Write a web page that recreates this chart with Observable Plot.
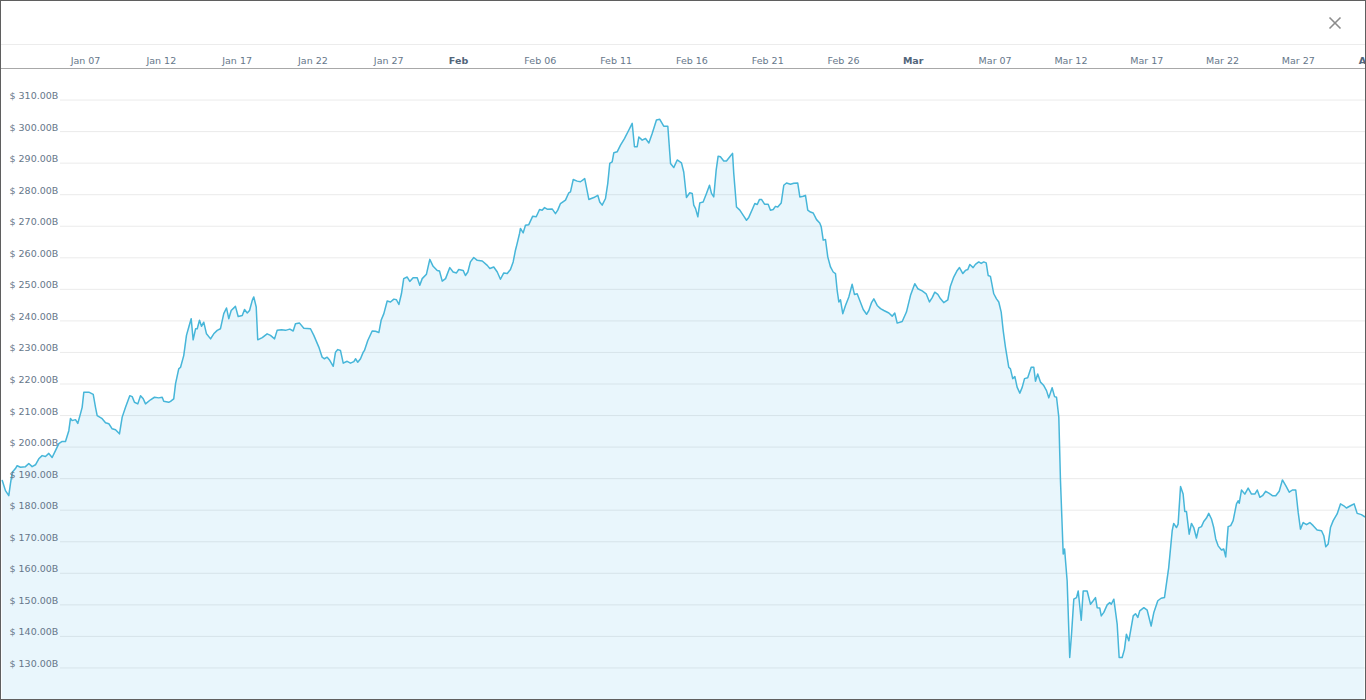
<!DOCTYPE html>
<html>
<head>
<meta charset="utf-8">
<script src="https://cdn.jsdelivr.net/npm/d3@7"></script>
<script src="https://cdn.jsdelivr.net/npm/@observablehq/plot@0.6"></script>
<style>
  html, body { margin: 0; padding: 0; background: #fff; }
  #frame { position: relative; width: 1364px; height: 698px; border: 1px solid #5f5f5f; overflow: hidden; background: #fff; }
  #header { position: relative; height: 43px; border-bottom: 1px solid #ececec; }
  #close { position: absolute; left: 1326px; top: 14px; }
  #chart svg { display: block; }
</style>
</head>
<body>
<div id="frame">
  <div id="header">
    <svg id="close" width="16" height="16" viewBox="0 0 16 16">
      <line x1="2.5" y1="2.5" x2="13.5" y2="13.5" stroke="#8c8c8c" stroke-width="1.6"/>
      <line x1="13.5" y1="2.5" x2="2.5" y2="13.5" stroke="#8c8c8c" stroke-width="1.6"/>
    </svg>
  </div>
  <div id="chart"></div>
</div>
<script>
// Time of each sample, in days since 2020-01-01 00:00 UTC
const days = [
  0.51,0.72,0.94,1.05,1.17,1.38,1.49,1.71,2.04,2.26,
  2.48,2.70,2.92,3.14,3.36,3.58,3.80,4.02,4.24,4.46,
  4.68,4.90,5.01,5.12,5.34,5.49,5.67,5.78,5.89,6.22,
  6.51,6.66,6.77,7.10,7.32,7.54,7.76,7.98,8.24,8.42,
  8.64,8.92,9.08,9.23,9.45,9.63,9.81,9.96,10.29,10.55,
  10.83,11.06,11.16,11.49,
  11.61,11.82,11.94,12.15,12.27,12.48,12.66,12.81,12.97,13.10,
  13.26,13.37,13.52,13.65,13.80,13.98,14.25,14.46,14.69,14.90,
  15.12,15.30,15.45,15.61,15.89,16.07,16.34,16.49,16.67,16.82,
  17.00,17.10,17.26,17.36,17.66,17.98,18.20,18.47,18.64,18.93,
  19.19,19.48,19.70,19.85,20.12,20.40,20.84,21.06,21.39,21.61,
  21.76,21.94,22.11,22.34,22.49,22.64,
  22.82,23.00,23.26,23.48,23.70,23.81,23.96,24.14,24.32,24.40,
  24.62,24.91,25.13,25.35,25.50,25.68,25.90,26.12,26.34,26.51,
  26.67,26.84,26.99,27.22,27.39,27.61,27.88,28.05,28.21,28.49,
  28.71,28.93,29.20,29.35,29.53,29.75,30.03,30.25,30.47,30.62,
  30.91,31.06,31.22,31.39,31.61,31.84,32.17,32.50,32.67,32.93,
  33.16,33.37,33.59,33.82,34.03,34.21,34.36,34.47,34.63,
  34.69,34.87,35.02,35.24,35.50,35.73,35.95,36.12,36.28,36.45,
  36.78,37.00,37.15,37.33,37.66,37.88,37.99,38.17,38.43,38.65,
  38.93,39.20,39.53,39.79,39.92,40.08,40.30,40.45,40.58,40.74,
  40.85,41.07,41.29,41.55,41.84,42.06,42.21,42.39,42.50,42.72,
  42.94,43.16,43.38,43.66,43.88,44.14,44.41,44.59,44.80,45.03,
  45.31,45.46,45.64,45.86,
  46.02,46.12,46.24,46.39,46.52,46.74,46.96,47.16,47.29,47.44,
  47.60,47.73,47.88,48.10,48.28,48.50,48.68,48.76,48.94,49.16,
  49.42,49.60,49.75,49.98,50.15,50.31,50.46,50.59,50.79,51.03,
  51.18,51.36,51.51,51.66,51.89,52.06,52.24,52.50,52.72,52.98,
  53.12,53.34,53.49,53.64,53.82,54.00,54.22,54.43,54.53,54.66,
  54.81,54.96,55.14,55.32,55.47,55.58,55.69,55.80,55.95,56.13,
  56.35,56.57,56.72,56.90,
  57.30,57.52,57.67,57.84,58.00,58.22,58.44,58.66,58.99,59.21,
  59.38,59.54,59.87,60.15,60.42,60.70,60.90,61.19,61.45,61.67,
  61.85,62.02,62.22,62.40,62.61,62.88,63.05,63.27,63.50,63.65,
  63.87,64.04,64.20,64.33,64.55,64.70,64.92,65.08,65.25,65.41,
  65.54,65.69,65.91,66.09,66.24,66.40,66.53,66.68,66.90,67.01,
  67.16,67.30,67.45,67.63,67.79,67.94,68.15,68.38,68.55,68.66,
  68.81,
  68.99,69.21,69.39,69.54,69.76,69.92,70.05,70.20,70.31,70.49,
  70.58,70.75,70.92,71.04,71.19,71.37,71.48,71.68,71.81,72.07,
  72.29,72.47,72.62,72.73,72.90,73.00,73.17,73.39,73.56,73.66,
  73.83,74.05,74.18,74.38,74.53,74.66,74.82,75.11,75.26,75.41,
  75.54,75.81,76.03,76.29,76.47,76.73,76.95,77.17,77.45,77.68,
  77.78,77.96,78.07,78.23,78.40,78.51,
  78.62,78.80,78.95,79.10,79.28,79.43,79.61,79.76,79.94,80.09,
  80.27,80.42,80.55,80.71,80.93,81.08,81.21,81.37,81.54,81.70,
  81.92,82.03,82.10,82.25,82.47,82.69,82.91,83.13,83.29,83.46,
  83.64,83.85,84.08,84.29,84.51,84.74,84.95,85.17,85.40,85.61,
  85.83,85.99,86.14,86.32,86.54,86.76,86.98,87.24,87.53,87.68,
  87.81,87.97,88.12,88.30,88.56,88.78,89.00,89.17,89.44,89.68,
  89.88,90.16,90.38
];

// Market cap in billions of USD
const values = [
  189.4,186.2,184.6,188.4,192.0,193.2,194.1,193.6,193.8,194.8,
  193.8,194.4,196.3,197.3,197.0,198.0,196.7,198.9,201.1,201.8,
  201.8,205.2,209.1,208.4,208.7,207.5,210.6,212.6,217.4,217.4,
  216.7,212.6,210.0,209.0,207.7,207.4,205.8,205.5,204.2,209.5,
  212.6,216.3,216.0,214.2,213.7,216.3,215.3,213.7,215.0,215.8,
  215.6,215.8,214.5,214.2,
  214.5,215.3,220.1,224.8,225.3,229.0,235.4,238.0,240.7,234.0,
  237.5,237.5,240.2,238.3,239.6,235.9,234.3,235.9,237.0,237.5,
  242.3,244.1,240.7,243.3,244.6,241.4,241.7,243.6,242.5,243.3,
  246.5,247.6,244.4,234.0,234.7,235.9,235.4,234.3,237.0,237.2,
  237.0,237.4,236.8,239.1,239.3,237.7,237.5,235.4,231.7,228.5,
  228.0,228.5,227.5,225.6,230.1,230.9,
  230.6,226.6,227.2,226.6,227.1,228.0,226.9,228.0,230.1,230.6,
  233.8,236.8,236.7,236.3,240.2,242.3,246.3,246.0,246.9,246.7,
  245.2,248.6,253.4,253.9,252.5,253.7,253.7,251.3,253.4,254.8,
  259.5,257.3,256.0,255.8,252.6,253.4,256.9,255.5,255.2,256.3,
  256.0,254.4,255.5,258.7,260.1,259.2,259.0,257.6,256.6,257.1,
  255.5,253.2,255.2,255.0,256.3,258.7,262.4,264.5,267.7,
  269.3,267.9,270.3,270.5,273.2,273.0,275.3,275.1,275.9,275.4,
  275.5,274.0,275.1,277.2,278.3,280.6,280.9,284.8,284.3,284.1,
  285.1,278.5,279.1,279.8,277.7,276.7,278.8,283.6,289.9,290.4,
  293.3,293.6,295.7,297.8,300.5,302.6,295.2,295.2,298.3,297.3,
  297.8,296.4,299.4,303.7,303.9,301.7,301.7,289.9,288.6,291.0,
  290.1,287.2,279.1,280.6,
  280.4,276.7,275.6,273.0,277.4,277.7,280.4,283.0,280.4,279.3,
  287.8,292.2,292.0,290.7,290.7,292.0,293.1,286.7,276.1,275.1,
  273.2,271.9,272.8,275.3,277.2,276.9,278.5,278.5,277.0,277.0,
  275.1,275.3,276.3,276.1,277.4,283.0,283.7,283.3,283.6,283.7,
  279.3,279.5,279.8,275.1,274.5,274.2,272.1,271.0,269.8,265.6,
  265.8,260.3,257.1,255.5,255.0,249.7,246.0,246.7,242.3,244.9,
  247.6,251.6,248.4,248.6,
  243.6,242.1,243.3,245.7,247.0,244.9,243.9,243.3,242.5,241.5,
  242.5,239.3,239.8,242.8,248.1,251.8,250.2,249.5,248.6,246.0,
  247.4,249.1,248.4,247.0,245.8,246.7,251.0,253.9,256.0,256.9,
  255.0,256.0,256.3,257.9,256.9,257.9,258.7,258.2,258.7,258.4,
  254.4,254.1,248.6,247.0,246.0,242.8,237.0,231.7,225.3,224.8,
  221.7,222.4,219.0,217.1,219.0,221.7,222.0,225.3,225.3,220.9,
  223.2,
  220.6,219.5,217.9,215.6,218.8,216.0,215.8,209.5,189.4,166.1,
  167.7,157.6,133.3,140.7,151.8,152.3,154.4,145.1,154.4,154.4,
  150.2,151.3,152.3,149.1,149.0,146.5,147.6,150.0,150.7,150.2,
  151.8,143.9,133.3,133.3,135.9,140.7,138.6,146.5,147.2,146.0,
  148.1,149.1,148.3,143.3,147.6,151.3,152.1,152.3,161.8,173.5,
  175.8,174.5,175.6,187.5,185.1,179.6,
  179.6,172.4,175.8,174.5,171.2,174.4,174.8,176.4,177.5,179.0,
  177.2,174.5,170.9,168.7,167.4,167.7,165.2,174.8,175.1,176.7,
  182.0,183.0,182.2,186.4,185.1,187.0,185.1,185.1,186.4,184.1,
  184.6,186.0,185.3,184.6,184.6,186.0,189.6,187.8,185.7,186.4,
  186.4,179.3,174.0,176.1,175.4,176.1,175.1,173.7,173.5,171.9,
  168.4,169.3,174.5,176.7,178.8,182.0,181.4,180.7,181.4,182.0,
  179.0,178.6,177.9
];

const yTicks = [130,140,150,160,170,180,190,200,210,220,230,240,250,260,270,280,290,300,310];
const dayTicks = ["2020-01-07","2020-01-12","2020-01-17","2020-01-22","2020-01-27",
                  "2020-02-06","2020-02-11","2020-02-16","2020-02-21","2020-02-26",
                  "2020-03-07","2020-03-12","2020-03-17","2020-03-22","2020-03-27"];
const dayTickLabels = ["Jan 07","Jan 12","Jan 17","Jan 22","Jan 27",
                       "Feb 06","Feb 11","Feb 16","Feb 21","Feb 26",
                       "Mar 07","Mar 12","Mar 17","Mar 22","Mar 27"];
const monthTicks = ["2020-02-01","2020-03-01","2020-04-01"];
const monthTickLabels = ["Feb","Mar","Apr"];
const xDomainDays = [0.459, 90.43];
const yDomain = [120, 320];

const DAY = 864e5;
const t0 = Date.UTC(2020, 0, 1);
const toDate = d => new Date(t0 + d * DAY);
const data = days.map((d, i) => ({date: toDate(d), value: values[i]}));
const fmtY = v => "$ " + v.toFixed(2) + "B";
const parse = s => new Date(s + "T00:00:00Z");

const labelFill = "#66778a";
const chart = Plot.plot({
  width: 1364,
  height: 654,
  marginTop: 23,
  marginBottom: 0,
  marginLeft: 0,
  marginRight: 0,
  style: {fontFamily: "'DejaVu Sans', Verdana, sans-serif", fontSize: "9.5px", background: "#fff"},
  x: {type: "utc", domain: xDomainDays.map(toDate), axis: null},
  y: {domain: yDomain, axis: null},
  marks: [
    Plot.ruleY(yTicks, {y: d => d, stroke: "#ebebeb", insetLeft: 59}),
    Plot.areaY(data, {x: "date", y1: yDomain[0], y2: "value", fill: "#2aa9e0", fillOpacity: 0.1}),
    Plot.lineY(data, {x: "date", y: "value", stroke: "#47b6d9", strokeWidth: 1.5}),
    Plot.ruleY([yDomain[1]], {stroke: "#a8a8a8"}),
    Plot.text(yTicks, {y: d => d, text: fmtY, frameAnchor: "left", dx: 8, dy: -4, textAnchor: "start", fill: labelFill}),
    Plot.text(dayTicks, {x: d => parse(d), text: (d, i) => dayTickLabels[i], frameAnchor: "top", dy: -11, fill: labelFill}),
    Plot.text(monthTicks.filter((d, i) => i !== 1), {x: d => parse(d), text: d => monthTickLabels[monthTicks.indexOf(d)], frameAnchor: "top", dy: -11, dx: -6, fill: "#52657a", fontWeight: "bold"}),
    Plot.text([monthTicks[1]], {x: d => parse(d), text: () => monthTickLabels[1], frameAnchor: "top", dy: -11, dx: 9, fill: "#52657a", fontWeight: "bold"})
  ]
});
document.getElementById("chart").appendChild(chart);
</script>
</body>
</html>
